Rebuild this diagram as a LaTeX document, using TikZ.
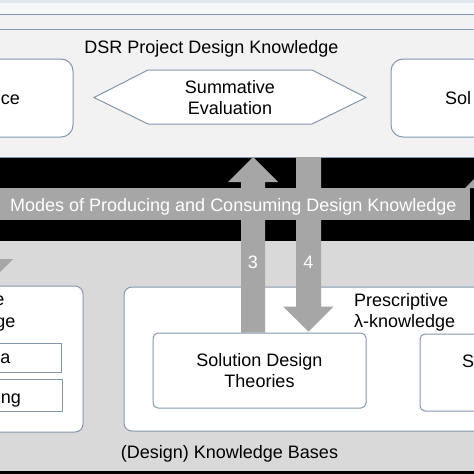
\documentclass[tikz,border=0pt]{standalone}
\usepackage{fontspec}
\setmainfont{Liberation Sans}
\usetikzlibrary{calc}
\definecolor{panelgray}{HTML}{F2F2F2}
\definecolor{lowgray}{HTML}{D9D9D9}
\definecolor{edgeblue}{HTML}{8497B0}
\definecolor{arrowgray}{HTML}{A6A6A6}
\definecolor{topblue}{HTML}{DEE8EE}
\definecolor{topwhite}{HTML}{F5F7F8}
\tikzset{
  rbox/.style={draw=edgeblue, fill=white, line width=1pt, rounded corners=12pt},
  sbox/.style={draw=edgeblue, fill=white, line width=1pt, rounded corners=5pt},
  plainbox/.style={draw=edgeblue, fill=white, line width=1pt},
  lbl/.style={inner sep=0pt, text=black},
  wlbl/.style={inner sep=0pt, text=white},
  blockarrow/.style={fill=arrowgray},
}
\begin{document}
\begin{tikzpicture}[x=1pt,y=-1pt,font=\fontsize{18}{21}\selectfont]
\useasboundingbox (0,0) rectangle (474,474);
\clip (0,0) rectangle (474,474);
% backgrounds
\fill[topblue] (0,0) rectangle (474,3);
\fill[topwhite] (0,3) rectangle (474,14);
\fill[panelgray] (0,14) rectangle (474,157);
\draw[edgeblue, line width=1pt] (0,14) -- (474,14);
\draw[edgeblue, line width=1pt] (0,29.5) -- (474,29.5);
\fill[black] (0,157) rectangle (474,241);
\draw[edgeblue, line width=0.8pt] (0,157) -- (474,157);
\fill[lowgray] (0,241) rectangle (474,471);
\fill[black] (0,471) rectangle (474,474);
\fill[arrowgray] (0,188) rectangle (470,220);

% top panel
\draw[rbox] (-30,59) rectangle (73,137);
\draw[rbox] (391,59) rectangle (530,137);
\draw[edgeblue, fill=white, line width=1pt]
  (94,97.5) -- (148,70) -- (312,70) -- (366,97.5) -- (312,124) -- (148,124) -- cycle;
\node[lbl, anchor=base] (dsrtitle) at (211.5,53) {DSR Project Design Knowledge};
\node[lbl, anchor=base east] (leftfrag) at (20,104) {ce};
\node[lbl, anchor=base west] (rightfrag) at (445,104) {Sol};
\node[lbl, align=center, anchor=base] (sumeval) at (230,114.5) {Summative\\Evaluation};

% lower region
\draw[rbox, rounded corners=8pt] (-30,286) rectangle (83,432);
\draw[plainbox] (-10,343) rectangle (61,372);
\draw[plainbox] (-10,379) rectangle (62,411);
\draw[rbox, rounded corners=8pt] (124,287) rectangle (530,431);
\draw[sbox] (420,334) rectangle (530,411);

% partial arrowheads at the edges
\fill[blockarrow] (465,188) -- (490,163) -- (515,188) -- cycle;
\fill[blockarrow] (13,259) -- (-12,284) -- (-37,259) -- cycle;

% solution design theories box
\node[sbox, minimum width=213pt, minimum height=75pt, align=center, inner sep=0pt]
  (sdt) at (259.5,370.5) {Solution Design\\Theories};

% block arrows 3 and 4
\coordinate (a3top) at (253,157);
\coordinate (a3bot) at ($(sdt.north)+(-6.5,0)$);
\coordinate (a4top) at (308.5,157);
\coordinate (a4tip) at ($(sdt.north)+(49,-1)$);
\fill[blockarrow] ($(a3bot)+(-12,0)$) -- ($(a3top)+(-12,25)$) -- ($(a3top)+(-25,25)$)
  -- (a3top) -- ($(a3top)+(25,25)$) -- ($(a3top)+(12,25)$) -- ($(a3bot)+(12,0)$) -- cycle;
\fill[blockarrow] ($(a4top)+(-12.5,0)$) -- ($(a4tip)+(-12.5,-25)$) -- ($(a4tip)+(-25.5,-25)$)
  -- (a4tip) -- ($(a4tip)+(25,-25)$) -- ($(a4tip)+(12.5,-25)$) -- ($(a4top)+(12.5,0)$) -- cycle;

% texts
\node[wlbl, anchor=base] (modes) at (233.3,211) {Modes of Producing and Consuming Design Knowledge};
\node[wlbl, anchor=base] (n3) at (253,268) {3};
\node[wlbl, anchor=base] (n4) at (308.5,268) {4};
\node[lbl, align=left, anchor=base west] (presc) at (354,327) {Prescriptive\\λ-knowledge};
\node[lbl, anchor=base east] (descA) at (4.5,305.5) {e};
\node[lbl, anchor=base east] (descB) at (15.5,327) {ge};
\node[lbl, anchor=base east] (fragA) at (10.5,363) {a};
\node[lbl, anchor=base east] (fragB) at (21,403) {ng};
\node[lbl, anchor=base west] (fragS) at (462,367) {S};
\node[lbl, anchor=base] (kbases) at (229.5,458) {(Design) Knowledge Bases};
\end{tikzpicture}
\end{document}
